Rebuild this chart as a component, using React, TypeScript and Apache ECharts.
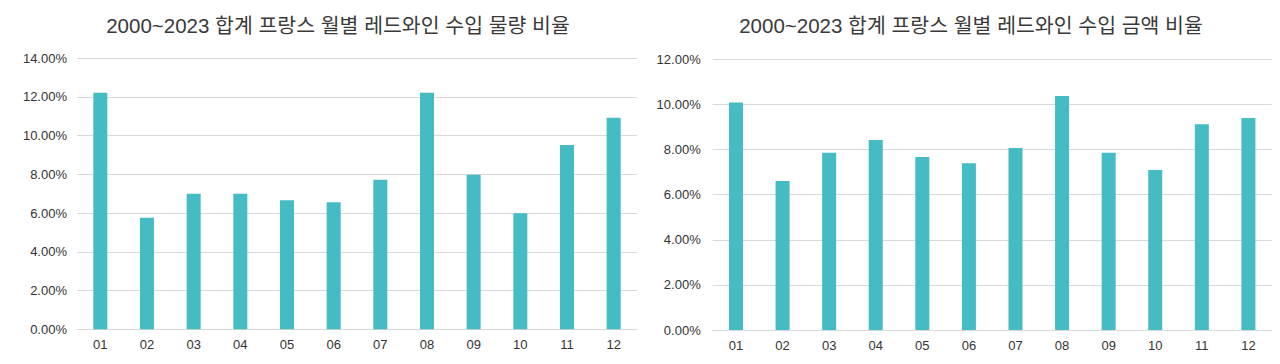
import React, { useEffect, useRef } from "react";
import * as echarts from "echarts";

const months = ["01", "02", "03", "04", "05", "06", "07", "08", "09", "10", "11", "12"];
const volumeShare = [12.21, 5.75, 6.99, 6.99, 6.66, 6.56, 7.72, 12.21, 7.97, 5.99, 9.51, 10.92];
const valueShare = [10.08, 6.6, 7.86, 8.42, 7.67, 7.39, 8.07, 10.37, 7.86, 7.09, 9.12, 9.4];
const titleVolume = "2000~2023 합계 프랑스 월별 레드와인 수입 물량 비율";
const titleValue = "2000~2023 합계 프랑스 월별 레드와인 수입 금액 비율";

const FONT = "'Liberation Sans', 'Noto Sans CJK KR', sans-serif";
const BAR = "#45bbc3";
const GRID = "#d9d9d9";

export default function App() {
  const ref = useRef<HTMLDivElement>(null);
  useEffect(() => {
    if (!ref.current) return;
    const chart = echarts.init(ref.current, undefined, { renderer: "svg" });
    const yAxis = (idx: number, max: number, margin: number) => ({
      type: "value",
      gridIndex: idx,
      min: 0,
      max,
      interval: 2,
      axisLine: { show: false },
      axisTick: { show: false },
      splitLine: { lineStyle: { color: GRID, width: 1 } },
      axisLabel: {
        formatter: (v: number) => v.toFixed(2) + "%",
        color: "#333",
        fontSize: 13,
        fontFamily: FONT,
        margin,
      },
    });
    const xAxis = (idx: number) => ({
      type: "category",
      gridIndex: idx,
      data: months,
      axisLine: { lineStyle: { color: GRID } },
      axisTick: { show: false },
      axisLabel: { color: "#333", fontSize: 13, fontFamily: FONT, margin: 9 },
    });
    chart.setOption({
      animation: false,
      backgroundColor: "#fff",
      title: [
        {
          text: titleVolume,
          left: 333,
          textAlign: "center",
          top: 10,
          textStyle: { fontSize: 20.5, fontWeight: "normal", color: "#3a3a3a", fontFamily: FONT },
        },
        {
          text: titleValue,
          left: 966,
          textAlign: "center",
          top: 10,
          textStyle: { fontSize: 20.5, fontWeight: "normal", color: "#3a3a3a", fontFamily: FONT },
        },
      ],
      grid: [
        { left: 77, width: 560, top: 58, height: 271.3 },
        { left: 712.7, width: 559, top: 59.3, height: 270.7 },
      ],
      xAxis: [xAxis(0), xAxis(1)],
      yAxis: [yAxis(0, 14, 10), yAxis(1, 12, 12)],
      series: [
        {
          type: "bar",
          xAxisIndex: 0,
          yAxisIndex: 0,
          data: volumeShare,
          barWidth: 14,
          itemStyle: { color: BAR },
        },
        {
          type: "bar",
          xAxisIndex: 1,
          yAxisIndex: 1,
          data: valueShare,
          barWidth: 14,
          itemStyle: { color: BAR },
        },
      ],
    });
    return () => chart.dispose();
  }, []);
  return (
    <div
      ref={ref}
      style={{ position: "fixed", left: 0, top: 0, width: 1280, height: 364, background: "#fff" }}
    />
  );
}
